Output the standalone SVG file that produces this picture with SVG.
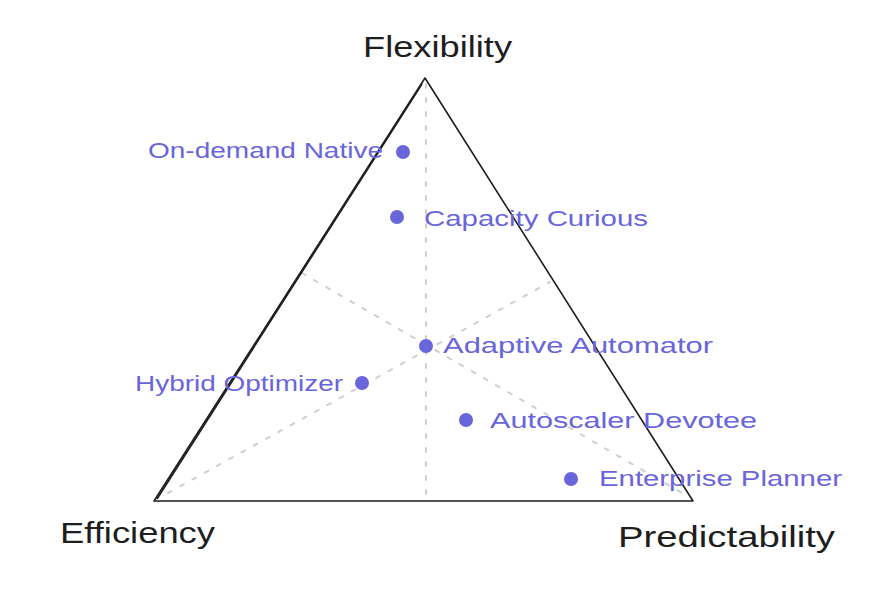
<svg xmlns="http://www.w3.org/2000/svg" width="889" height="589" viewBox="0 0 889 589">
<style>
.edge{fill:none;stroke:#1e1e1e;stroke-width:1.6;stroke-linejoin:round}
.guide{fill:none;stroke:#cfcfcf;stroke-width:2;stroke-dasharray:4 10;stroke-linecap:round}
.dot{fill:#6965db}
.lbl{font-family:"Liberation Sans",Arial,sans-serif;font-size:22px;fill:#6965db}
.axis{font-family:"Liberation Sans",Arial,sans-serif;font-size:30px;fill:#1e1e1e}
</style>
<rect width="889" height="589" fill="#ffffff"/>
<g id="connectors">
<line class="guide" x1="426" y1="84" x2="426" y2="498"/>
<line class="guide" x1="168" y1="493" x2="550" y2="282"/>
<line class="guide" x1="302" y1="273" x2="684" y2="494"/>
</g>
<g id="triangle">
<polygon class="edge" points="425,78 154,501 693,501"/>
<line class="edge" x1="422" y1="84" x2="157" y2="499" stroke-width="1.2"/>
</g>
<g id="axis-flexibility"><text class="axis" x="363" y="57" textLength="149" lengthAdjust="spacingAndGlyphs">Flexibility</text></g>
<g id="axis-efficiency"><text class="axis" x="60" y="543" textLength="155" lengthAdjust="spacingAndGlyphs">Efficiency</text></g>
<g id="axis-predictability"><text class="axis" x="618" y="547" textLength="217" lengthAdjust="spacingAndGlyphs">Predictability</text></g>
<g id="on-demand-native"><circle class="dot" cx="403" cy="152" r="7"/><text class="lbl" x="148" y="158" textLength="235" lengthAdjust="spacingAndGlyphs">On-demand Native</text></g>
<g id="capacity-curious"><circle class="dot" cx="397" cy="217" r="7"/><text class="lbl" x="424" y="226" textLength="224" lengthAdjust="spacingAndGlyphs">Capacity Curious</text></g>
<g id="adaptive-automator"><circle class="dot" cx="426" cy="346" r="7"/><text class="lbl" x="443" y="353" textLength="270" lengthAdjust="spacingAndGlyphs">Adaptive Automator</text></g>
<g id="hybrid-optimizer"><circle class="dot" cx="362" cy="383" r="7"/><text class="lbl" x="135" y="391" textLength="208" lengthAdjust="spacingAndGlyphs">Hybrid Optimizer</text></g>
<g id="autoscaler-devotee"><circle class="dot" cx="466" cy="420" r="7"/><text class="lbl" x="490" y="428" textLength="267" lengthAdjust="spacingAndGlyphs">Autoscaler Devotee</text></g>
<g id="enterprise-planner"><circle class="dot" cx="571" cy="479" r="7"/><text class="lbl" x="599" y="486" textLength="243" lengthAdjust="spacingAndGlyphs">Enterprise Planner</text></g>
</svg>
